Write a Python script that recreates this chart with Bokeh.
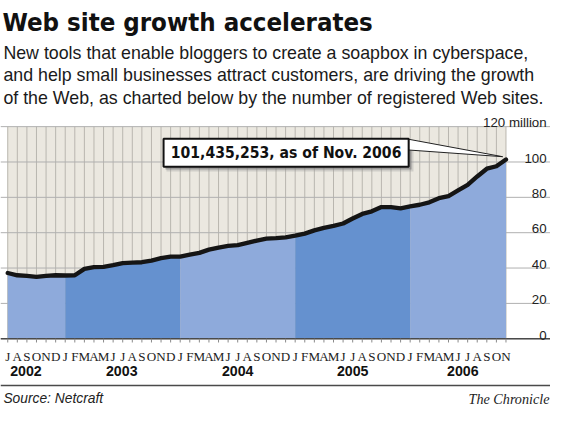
from bokeh.plotting import figure
from bokeh.models import Range1d
from bokeh.embed import file_html
from bokeh.resources import INLINE
from bokeh.core.properties import value

# ---------------- data ----------------
title_text = "Web site growth accelerates"
subtitle_lines = [
    "New tools that enable bloggers to create a soapbox in cyberspace,",
    "and help small businesses attract customers, are driving the growth",
    "of the Web, as charted below by the number of registered Web sites.",
]
years = ["2002", "2003", "2004", "2005", "2006"]
months_2002 = ["J", "A", "S", "O", "N", "D"]
months_full = ["J", "F", "M", "A", "M", "J", "J", "A", "S", "O", "N", "D"]
months_2006 = ["J", "F", "M", "A", "M", "J", "J", "A", "S", "O", "N"]

# registered web sites, millions
sites_2002 = [37.2, 35.9, 35.6, 35.0, 35.6, 35.9]
sites_2003 = [35.8, 35.9, 39.5, 40.5, 40.7, 41.6, 42.8, 43.1, 43.3, 44.2, 45.6, 46.5]
sites_2004 = [46.5, 47.6, 48.6, 50.4, 51.6, 52.5, 53.0, 54.2, 55.5, 56.6, 56.9, 57.4]
sites_2005 = [58.3, 59.5, 61.3, 62.7, 63.8, 65.2, 68.0, 70.6, 72.1, 74.5, 74.5, 73.8]
sites_2006 = [74.9, 75.8, 77.2, 79.5, 80.7, 83.9, 87.0, 91.8, 96.2, 97.6, 101.4]

y_ticks = [0, 20, 40, 60, 80, 100, 120]
y_tick_labels = ["0", "20", "40", "60", "80", "100", "120 million"]
callout_text = "101,435,253, as of Nov. 2006"
source_text = "Source: Netcraft"
credit_text = "The Chronicle"

year_series = [sites_2002, sites_2003, sites_2004, sites_2005, sites_2006]
year_months = [months_2002, months_full, months_full, months_full, months_2006]
band_colors = ["#8eaadb", "#6591cf", "#8eaadb", "#6591cf", "#8eaadb"]
year_label_x = [1.9, 11.9, 24.0, 36.0, 47.5]   # month index under which each year label sits

values = [v for s in year_series for v in s]
month_letters = [m for ms in year_months for m in ms]
idx = list(range(len(values)))
n = len(values)

# ---------------- layout ----------------
W, H = 550, 413
RW, RH = 570.0, 429.0
PAD = 13.0                  # blank reference px kept below the footer
S = W / RW
SV = H / (RH + PAD)
F = (S + SV) / 2

X0, DX = 7.5, 9.93          # reference px of month 0, px per month
Y0, DY = 362.0, 1.8917      # reference px of 0, px per million


def X(px):
    return (px - X0) / DX


def Y(py):
    return (Y0 - py) / DY


def fs(px):
    return value(f"{px * F:.1f}px")


p = figure(width=W, height=H, x_range=Range1d(X(0), X(RW)), y_range=Range1d(Y(RH + PAD), Y(0)),
           x_axis_type=None, y_axis_type=None, output_backend="svg", toolbar_location=None,
           min_border=0, outline_line_color=None, background_fill_color="white",
           border_fill_color="white")
p.grid.visible = False

# beige plotting field with monthly grid
p.quad(left=0, right=n - 1, bottom=0, top=y_ticks[-1], fill_color="#ebe8e0", line_color=None)
p.segment(x0=idx, y0=[0] * n, x1=idx, y1=[y_ticks[-1]] * n, line_color="#b9b6af", line_width=1)
p.segment(x0=[X(0)] * len(y_ticks), y0=y_ticks, x1=[X(RW)] * len(y_ticks), y1=y_ticks,
          line_color="#b0b0b0", line_width=1)

# blue year bands under the curve
start = 0
for series, color in zip(year_series, band_colors):
    end = min(start + len(series), n - 1)
    xs = idx[start:end + 1]
    p.varea(x=xs, y1=[0] * len(xs), y2=values[start:end + 1], fill_color=color)
    start += len(series)

# growth line
p.line(idx, values, line_color="#151515", line_width=4.5 * S, line_join="round", line_cap="round")

# baseline and month ticks
p.segment(x0=[X(0)], y0=[0], x1=[X(RW)], y1=[0], line_color="#4a4a4a", line_width=1.6)
p.segment(x0=idx, y0=[0] * n, x1=idx, y1=[Y(366)] * n, line_color="#8a8a8a", line_width=1)

# month letters and years
p.text(x=idx, y=[Y(380.5)] * n, text=month_letters, text_align="center", text_baseline="alphabetic",
       text_font=value("Liberation Sans Narrow"), text_font_size=fs(13.8), text_color="#222222")
p.text(x=year_label_x, y=[Y(397)] * len(years), text=years, text_align="center",
       text_baseline="alphabetic", text_font=value("Liberation Sans"), text_font_style="bold",
       text_font_size=fs(15), text_color="#111111")

# right-hand value labels
p.text(x=[X(566)] * len(y_ticks), y=[t + 4 / DY for t in y_ticks], text=y_tick_labels,
       text_align="right", text_baseline="alphabetic", text_font=value("Liberation Sans"),
       text_font_size=fs(14), text_color="#222222")

# callout
tip_x, tip_y = idx[-1] - 0.35, values[-1] + 1.6
p.quad(left=X(172), right=X(428), top=Y(151), bottom=Y(183), fill_color="#9a9a9a",
       fill_alpha=0.35, line_color=None)
p.quad(left=X(171), right=X(426), top=Y(150), bottom=Y(181), fill_color="#7a7a7a",
       fill_alpha=0.6, line_color=None)
p.patch(x=[X(423), tip_x, X(423)], y=[Y(148.5), tip_y, Y(160)], fill_color="white",
        line_color="#222222", line_width=1)
p.quad(left=X(169), right=X(423), top=Y(148), bottom=Y(178), fill_color="white",
       line_color="#111111", line_width=2)
p.text(x=[X(296)], y=[Y(163.5)], text=[callout_text], text_align="center", text_baseline="middle",
       text_font=value("DejaVu Sans Condensed"), text_font_style="bold", text_font_size=fs(16.4),
       text_color="#111111")

# title & subtitle
p.text(x=[X(2)], y=[Y(23)], text=[title_text], text_baseline="alphabetic",
       text_font=value("DejaVu Sans Condensed"), text_font_style="bold", text_font_size=fs(27),
       text_color="#111111")
p.text(x=[X(3)] * 3, y=[Y(56), Y(80), Y(104)], text=subtitle_lines, text_baseline="alphabetic",
       text_font=value("Liberation Sans"), text_font_size=fs(18.7), text_color="#1a1a1a")

# footer
p.segment(x0=[X(0)], y0=[Y(412)], x1=[X(RW)], y1=[Y(412)], line_color="#4a4a4a", line_width=1.6)
p.text(x=[X(3)], y=[Y(426)], text=[source_text], text_baseline="alphabetic",
       text_font=value("Liberation Sans"), text_font_style="italic", text_font_size=fs(14.5),
       text_color="#222222")
p.text(x=[X(569)], y=[Y(426)], text=[credit_text], text_align="right", text_baseline="alphabetic",
       text_font=value("Liberation Serif"), text_font_style="italic", text_font_size=fs(15),
       text_color="#222222")

open("out.html", "w").write(file_html(p, INLINE))
